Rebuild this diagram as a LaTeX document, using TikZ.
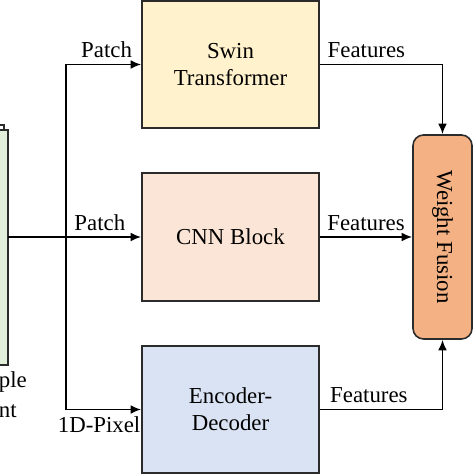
\documentclass[tikz,border=0pt]{standalone}
\usepackage{fontspec}
\setmainfont{Liberation Serif}
\usetikzlibrary{arrows.meta}
\definecolor{swinfill}{HTML}{FFF2CC}
\definecolor{cnnfill}{HTML}{FBE5D6}
\definecolor{encfill}{HTML}{DAE3F3}
\definecolor{fusefill}{HTML}{F4B183}
\definecolor{inputfill}{HTML}{E2EFDA}
\definecolor{edge}{HTML}{2B2B2B}
\begin{document}
\begin{tikzpicture}[font=\fontsize{13}{15.5}\selectfont,
  block/.style={draw=edge, line width=0.9pt, minimum width=3.54cm, align=center},
  flow/.style={line width=1pt, -{Latex[length=6pt,width=5pt]}}]

\useasboundingbox (0,0) rectangle (9.48,9.48);

% input stack (cut off at the left edge)
\draw[draw=edge, line width=0.6pt] (-0.5,6.98) -- (0.08,6.98) -- (0.08,6.88);
\draw[draw=edge, line width=0.9pt, fill=inputfill] (-0.5,6.88) rectangle (0.16,2.18);
\coordinate (in) at (0.16,4.74);
\node[anchor=west, inner sep=0pt] (t1) at (-0.03,1.84) {ple};
\node[anchor=west, inner sep=0pt] (t2) at (-0.03,1.25) {nt};

% the three branches
\node[block, fill=swinfill, minimum height=2.54cm] (swin) at (4.61,8.19) {Swin\\Transformer};
\node[block, fill=cnnfill, minimum height=2.56cm] (cnn) at (4.61,4.74) {CNN Block};
\node[block, fill=encfill, minimum height=2.54cm] (enc) at (4.61,1.29) {Encoder-\\Decoder};
\node[draw=edge, line width=0.9pt, fill=fusefill, rounded corners=6pt,
  minimum width=1.18cm, minimum height=4.08cm] (fuse) at (8.85,4.74) {};
\node[rotate=-90] (fusetxt) at (fuse.center) {Weight Fusion};

% split
\coordinate (s) at (1.32,4.74);
\draw[line width=1pt] (in) -- (s);
\draw[flow] (s) -- node[above, pos=0.45] {Patch} (cnn.west);
\draw[flow] (s) |- node[above, pos=0.77] {Patch} (swin.west);
\draw[flow] (s) |- node[below, pos=0.72] {1D-Pixel} (enc.west);

% features into fusion
\draw[flow] (swin.east) -| node[above, pos=0.19] {Features} (fuse.north);
\draw[flow] (cnn.east) -- node[above] {Features} (fuse.west);
\draw[flow] (enc.east) -| node[above, pos=0.2] {Features} (fuse.south);

\end{tikzpicture}
\end{document}
